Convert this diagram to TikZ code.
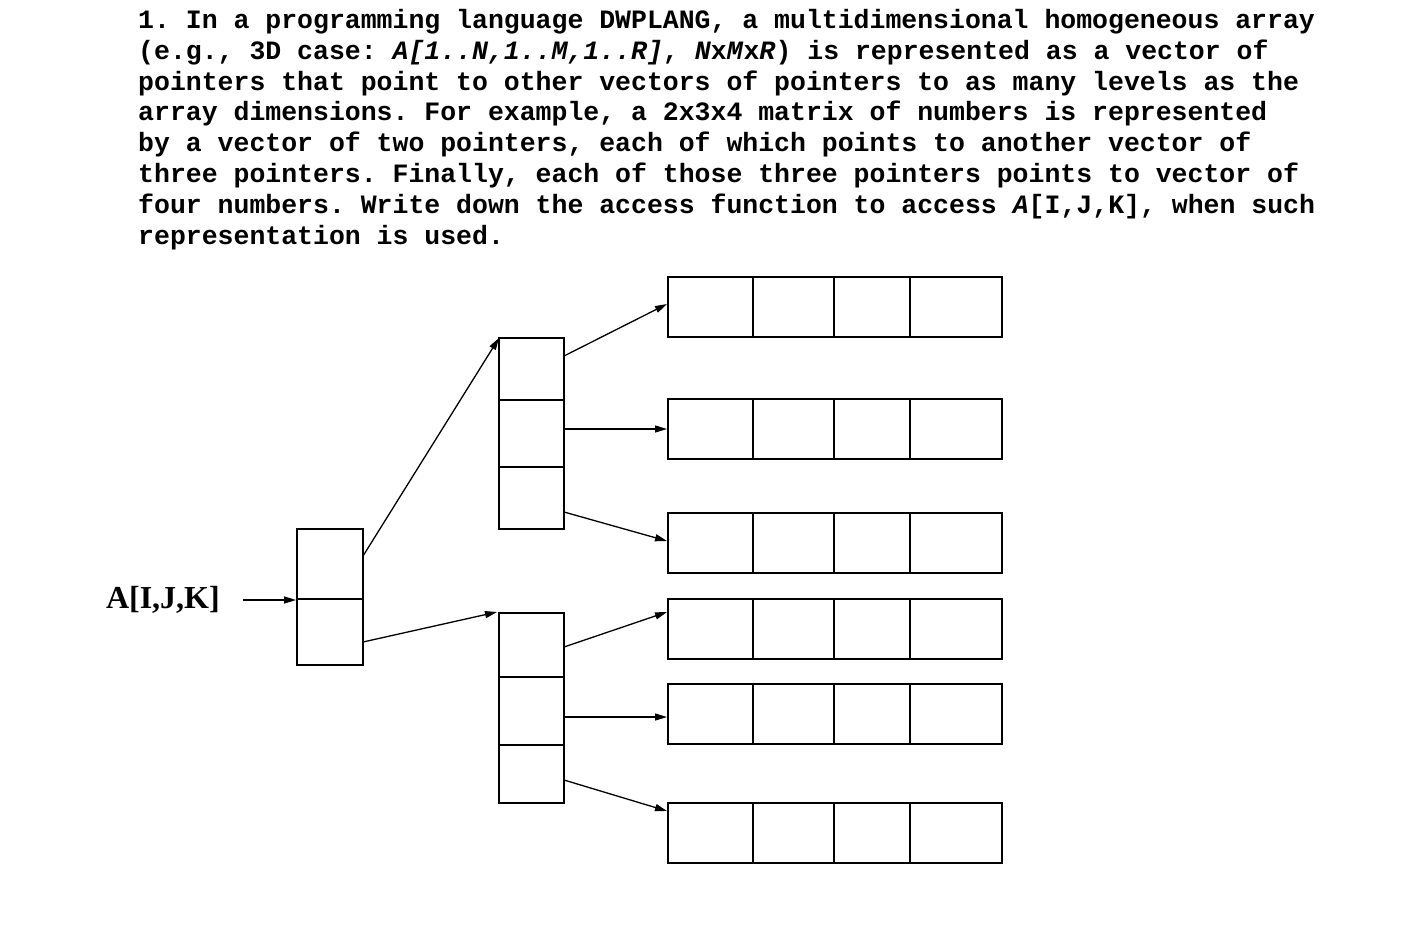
\documentclass[tikz,border=0pt]{standalone}
\usepackage{fontspec}
\setmonofont{Liberation Mono}
\setmainfont{Liberation Serif}
\usetikzlibrary{arrows.meta}
\begin{document}
\begin{tikzpicture}[x=1pt,y=-1pt,
  cell/.style={draw,line width=1.3pt,minimum width=#1,inner sep=0pt,outer sep=0pt},
  arr/.style={-{Triangle[length=12pt,width=7pt]},line width=1.3pt}]
\useasboundingbox (0,0) rectangle (1420,934);
\node[anchor=north west,inner sep=0pt,text width=1228pt,align=justify,font=\ttfamily\bfseries\fontsize{26.5}{30.8}\selectfont] (txt) at (138,9)
{1. In a programming language DWPLANG, a multidimensional homogeneous array (e.g., 3D case: \textit{A[1..N,1..M,1..R]}, \textit{N}x\textit{M}x\textit{R}) is represented as a vector of pointers that point to other vectors of pointers to as many levels as the array dimensions. For example, a 2x3x4 matrix of numbers is represented by a vector of two pointers, each of which points to another vector of three pointers. Finally, each of those three pointers points to vector of four numbers. Write down the access function to access \textit{A}[I,J,K], when such representation is used.\par};
\node[anchor=east,inner sep=0pt,font=\bfseries\fontsize{32}{36}\selectfont] (lab) at (220,600) {A[I,J,K]};
% level 1
\draw[line width=1.3pt] (297,529) rectangle (363,665); \draw[line width=1.3pt] (297,599)--(363,599);
\coordinate (l1a) at (363,556); \coordinate (l1b) at (363,642); \coordinate (l1in) at (296,600);
\coordinate (labr) at (243,600);
\draw[arr] (labr)--(l1in);
% mid boxes
\draw[line width=1.3pt] (499,338) rectangle (564,529); \draw[line width=1.3pt] (499,400)--(564,400) (499,467)--(564,467);
\draw[line width=1.3pt] (499,613) rectangle (564,803); \draw[line width=1.3pt] (499,677)--(564,677) (499,745)--(564,745);
\coordinate (m1) at (499,338); \coordinate (m2) at (497,612);
\draw[arr] (l1a)--(m1);
\draw[arr] (l1b)--(m2);
% rows
\foreach \y/\n in {277/r1,399/r2,513/r3,599/r4,684/r5,803/r6}{
  \draw[line width=1.3pt] (668,\y) rectangle (1002,\y+60);
  \draw[line width=1.3pt] (753,\y)--(753,\y+60) (834,\y)--(834,\y+60) (910,\y)--(910,\y+60);
}
\coordinate (a1) at (564,356); \coordinate (b1) at (667,304);
\coordinate (a2) at (564,429); \coordinate (b2) at (667,429);
\coordinate (a3) at (564,512); \coordinate (b3) at (667,541);
\coordinate (a4) at (564,647); \coordinate (b4) at (667,612);
\coordinate (a5) at (564,717); \coordinate (b5) at (667,717);
\coordinate (a6) at (564,780); \coordinate (b6) at (667,811);
\foreach \i in {1,...,6} \draw[arr] (a\i)--(b\i);
\end{tikzpicture}
\end{document}
